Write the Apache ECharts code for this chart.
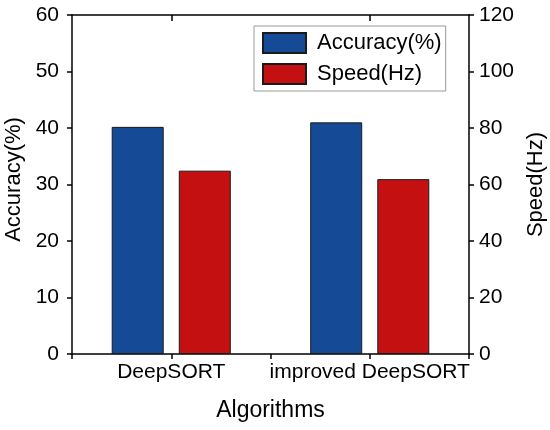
<!DOCTYPE html>
<html>
<head>
<meta charset="utf-8">
<script src="https://cdn.jsdelivr.net/npm/echarts@6/dist/echarts.min.js"></script>
<style>html,body{margin:0;padding:0;background:#fff}#c{width:550px;height:430px}</style>
</head>
<body>
<div id="c"></div>
<script>
var categories = ['DeepSORT', 'improved DeepSORT'];
var accuracy = [40.2, 41.0];
var speed = [64.9, 61.9];
var seriesNames = ['Accuracy(%)', 'Speed(Hz)'];
var leftTitle = 'Accuracy(%)';
var rightTitle = 'Speed(Hz)';
var xTitle = 'Algorithms';

var FONT = '"Liberation Sans", Arial, Helvetica, sans-serif';
var lineStyle = {color: '#000', width: 1.5};
var chart = echarts.init(document.getElementById('c'), null, {renderer: 'canvas'});
chart.setOption({
  animation: false,
  backgroundColor: '#fff',
  textStyle: {fontFamily: FONT, color: '#000'},
  grid: {left: 72, right: 81, top: 15, bottom: 76, containLabel: false, outerBoundsMode: 'none'},
  legend: {
    orient: 'vertical',
    left: 254, top: 26,
    padding: [6, 4, 6, 8],
    itemWidth: 43, itemHeight: 20, itemGap: 9,
    borderColor: '#999', borderWidth: 1,
    icon: 'rect',
    textStyle: {fontSize: 22, fontFamily: FONT, color: '#000', padding: [0, 0, 0, 6]},
    data: seriesNames
  },
  xAxis: [
    {
      type: 'category', position: 'bottom', data: categories,
      axisLine: {show: true, lineStyle: lineStyle},
      axisTick: {show: true, alignWithLabel: true, length: 5, lineStyle: lineStyle},
      axisLabel: {fontSize: 21, color: '#000', margin: 8, fontFamily: FONT, interval: 0},
      name: xTitle, nameLocation: 'middle', nameGap: 45,
      nameTextStyle: {fontSize: 23, color: '#000', fontFamily: FONT},
      splitLine: {show: false}
    },
    {
      type: 'category', position: 'bottom', data: categories,
      axisLine: {show: false},
      axisTick: {show: true, alignWithLabel: false, length: 5, lineStyle: lineStyle},
      axisLabel: {show: false},
      splitLine: {show: false}
    },
    {
      type: 'category', position: 'top', data: categories,
      axisLine: {show: true, lineStyle: lineStyle},
      axisTick: {show: true, alignWithLabel: true, inside: true, length: 6, lineStyle: lineStyle},
      axisLabel: {show: false},
      splitLine: {show: false}
    }
  ],
  yAxis: [
    {
      type: 'value', position: 'left', min: 0, max: 60, interval: 10,
      axisLine: {show: true, lineStyle: lineStyle},
      axisTick: {show: true, length: 5, lineStyle: lineStyle},
      axisLabel: {fontSize: 21, color: '#000', margin: 13, fontFamily: FONT},
      splitLine: {show: false},
      name: leftTitle, nameLocation: 'middle', nameGap: 45, nameRotate: 90,
      nameTextStyle: {fontSize: 22, color: '#000', fontFamily: FONT, padding: [0, 0, 0, 10]}
    },
    {
      type: 'value', position: 'right', min: 0, max: 120, interval: 20,
      axisLine: {show: true, lineStyle: lineStyle},
      axisTick: {show: true, length: 5, lineStyle: lineStyle},
      axisLabel: {fontSize: 21, color: '#000', margin: 10, fontFamily: FONT},
      splitLine: {show: false},
      name: rightTitle, nameLocation: 'middle', nameGap: 55, nameRotate: 90,
      nameTextStyle: {fontSize: 22, color: '#000', fontFamily: FONT}
    }
  ],
  series: [
    {
      name: seriesNames[0], type: 'bar', xAxisIndex: 0, yAxisIndex: 0,
      data: accuracy, barWidth: 52, barGap: '29%',
      itemStyle: {color: '#154a97', borderColor: '#1a1a1a', borderWidth: 1}
    },
    {
      name: seriesNames[1], type: 'bar', xAxisIndex: 0, yAxisIndex: 1,
      data: speed, barWidth: 52, barGap: '29%',
      itemStyle: {color: '#c41011', borderColor: '#1a1a1a', borderWidth: 1}
    }
  ]
});
</script>
</body>
</html>
